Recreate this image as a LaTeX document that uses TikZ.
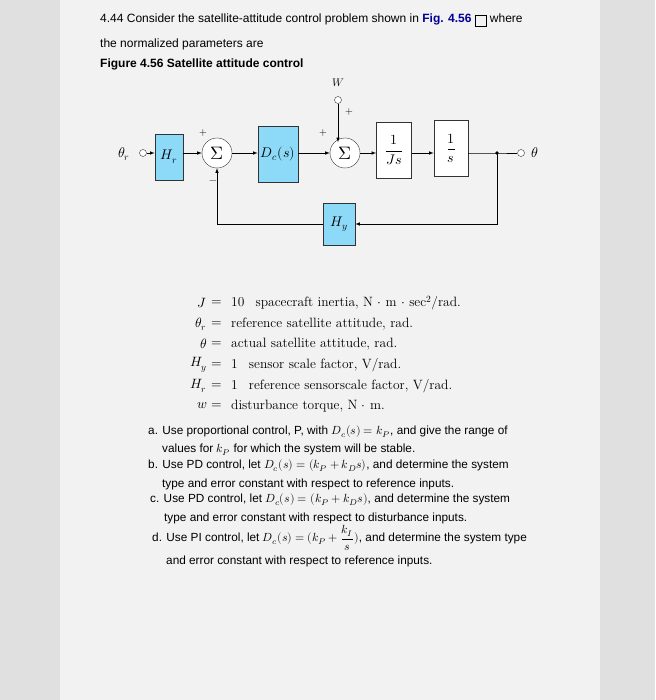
\documentclass[tikz,border=0pt]{standalone}
\usepackage{fontspec}
\setmainfont{Liberation Sans}
\newfontfamily\serifm{Latin Modern Roman}
\usepackage{unicode-math}
\setmathfont{Latin Modern Math}
\begin{document}
\begin{tikzpicture}[x=1pt,y=-1pt,
 blk/.style={draw=black!80,line width=0.6pt,minimum width=#1,align=center,inner sep=1pt},
 cy/.style={fill=cyan!45!white},
 sumc/.style={draw=black!80,circle,fill=white,minimum size=30pt,inner sep=0pt,font=\fontsize{18}{18}\selectfont},
 port/.style={draw=black!80,circle,fill=white,minimum size=7pt,inner sep=0pt},
 sig/.style={line width=0.6pt,-latex},
 ln/.style={line width=0.6pt},
 dg/.style={font=\fontsize{14}{16}\selectfont},
 txt/.style={anchor=west,inner sep=0pt,font=\fontsize{11.8}{13}\selectfont},
 eq/.style={inner sep=0pt,font=\serifm\fontsize{13.5}{15}\selectfont}]
\fill[black!12] (0,0) rectangle (655,700);
\fill[black!5] (60,0) rectangle (600,700);
\node[txt,font=\fontsize{12}{13}\selectfont] (h1) at (100,20) {4.44 Consider the satellite-attitude control problem shown in \textcolor{blue!60!black}{\textbf{Fig. 4.56}} \fbox{\rule{0pt}{4pt}\rule{5pt}{0pt}} where};
\node[txt,font=\fontsize{12}{13}\selectfont] (h2) at (100,44) {the normalized parameters are};
\node[txt,font=\fontsize{12}{13}\selectfont] (h3) at (100,64) {\textbf{Figure 4.56 Satellite attitude control}};
% diagram
\node[dg] (thr) at (124,154) {$\theta_r$};
\node[port] (pin) at (143,153) {};
\node[blk=28pt,cy,minimum height=46pt,dg] (hr) at (169,157) {$H_r$};
\node[sumc] (s1) at (217,153) {$\Sigma$};
\node[blk=40pt,cy,minimum height=56pt,dg] (dc) at (278,154) {$D_c(s)$};
\node[sumc] (s2) at (345,153) {$\Sigma$};
\node[port] (pw) at (338,100) {};
\node[font=\fontsize{11}{12}\selectfont] (wl) at (338,83) {$W$};
\node[blk=35pt,fill=white,minimum height=56pt,dg] (js) at (394,150) {$\dfrac{1}{Js}$};
\node[blk=34pt,fill=white,minimum height=56pt,dg] (is) at (451,148) {$\dfrac{1}{s}$};
\coordinate (dot) at (497,153);
\fill (dot) circle (1.8pt);
\node[port] (pout) at (521,153) {};
\node[dg] (thl) at (535,153) {$\theta$};
\node[blk=32pt,cy,minimum height=42pt,dg] (hy) at (339,224) {$H_y$};
\draw[sig] (pin) -- (hr.west|-pin);
\draw[sig] (hr.east|-s1) -- (s1);
\draw[sig] (s1) -- (dc.west|-s1);
\draw[sig] (dc.east|-s2) -- (s2);
\draw[sig] (pw) -- (s2.north west-|pw);
\draw[sig] (s2) -- (js.west|-s2);
\draw[sig] (js.east|-s2) -- (is.west|-s2);
\draw[ln] (is.east|-s2) -- (dot) -- (pout);
\draw[sig] (dot) |- (hy.east);
\draw[sig] (hy.west) -| (s1.south);
\node at (203,133) {$+$};
\node at (213,182) {$-$};
\node at (323,133) {$+$};
\node at (349,112) {$+$};
% equations
\foreach \l/\r/\y in {{J}/{10\enspace\ spacecraft inertia, N $\cdot$ m $\cdot$ sec$^2$/rad.}/303,
 {\theta_r}/{reference satellite attitude, rad.}/324,
 {\theta}/{actual satellite attitude, rad.}/344,
 {H_y}/{1\enspace\ sensor scale factor, V/rad.}/365,
 {H_r}/{1\enspace\ reference sensorscale factor, V/rad.}/386,
 {w}/{disturbance torque, N $\cdot$ m.}/406}{
 \node[eq,anchor=east] at (207,\y) {$\l$};
 \node[eq] at (217,\y) {$=$};
 \node[eq,anchor=west] at (231,\y) {\r};
}
% parts
\node[txt] (pa) at (148,432) {a. Use proportional control, P, with $D_c(s)=k_P$, and give the range of};
\node[txt] (pa2) at (162,450) {values for $k_P$ for which the system will be stable.};
\node[txt] (pb) at (148,466) {b. Use PD control, let $D_c(s)=(k_P+k_Ds)$, and determine the system};
\node[txt] (pb2) at (162,484) {type and error constant with respect to reference inputs.};
\node[txt] (pc) at (150,500) {c. Use PD control, let $D_c(s)=(k_P+k_Ds)$, and determine the system};
\node[txt] (pc2) at (164,518) {type and error constant with respect to disturbance inputs.};
\node[txt] (pd) at (152,538) {d. Use PI control, let $D_c(s)=(k_P+\dfrac{k_I}{s})$, and determine the system type};
\node[txt] (pd2) at (166,561) {and error constant with respect to reference inputs.};
\end{tikzpicture}
\end{document}
